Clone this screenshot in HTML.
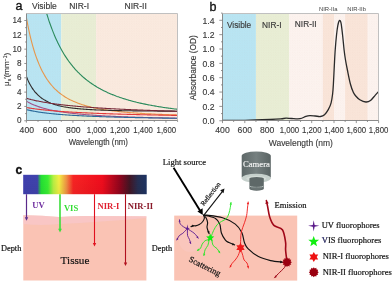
<!DOCTYPE html>
<html><head><meta charset="utf-8"><style>
html,body{margin:0;padding:0;background:#fff;}
svg{display:block;will-change:transform;}
.tk{font-family:"Liberation Sans",sans-serif;font-size:9.1px;fill:#3a3a3a;stroke:#3a3a3a;stroke-width:0.15px;}
.lb{font-family:"Liberation Sans",sans-serif;font-size:8.1px;fill:#3a3a3a;stroke:#3a3a3a;stroke-width:0.15px;}
.hd{font-family:"Liberation Sans",sans-serif;font-size:8.5px;fill:#3a3a3a;stroke:#3a3a3a;stroke-width:0.15px;}
.sm{font-family:"Liberation Sans",sans-serif;font-size:5.9px;fill:#444;}
.pl{font-family:"Liberation Sans",sans-serif;font-size:12.5px;fill:#111;stroke:#111;stroke-width:0.35px;}
.sf{font-family:"Liberation Serif",serif;font-size:8.3px;fill:#111;stroke:#111;stroke-width:0.18px;}
.bs{font-family:"Liberation Serif",serif;font-size:8.6px;font-weight:bold;}
</style></head><body>
<svg width="392" height="283" viewBox="0 0 392 283">
<defs>
<pattern id="dots" width="2.4" height="2.4" patternUnits="userSpaceOnUse"><circle cx="0.6" cy="0.6" r="0.38" fill="#c89078" fill-opacity="0.13"/><circle cx="1.8" cy="1.8" r="0.38" fill="#c89078" fill-opacity="0.13"/></pattern>
<pattern id="dots2" width="2" height="2" patternUnits="userSpaceOnUse"><circle cx="1" cy="1" r="0.4" fill="#fff" fill-opacity="0.15"/></pattern>
<linearGradient id="spec" x1="0" x2="1" y1="0" y2="0">
<stop offset="0" stop-color="#3c3cae"/>
<stop offset="0.115" stop-color="#3c40aa"/>
<stop offset="0.145" stop-color="#20e030"/>
<stop offset="0.2" stop-color="#38f030"/>
<stop offset="0.245" stop-color="#b8f040"/>
<stop offset="0.29" stop-color="#f4f040"/>
<stop offset="0.35" stop-color="#f09040"/>
<stop offset="0.405" stop-color="#f82020"/>
<stop offset="0.64" stop-color="#f00818"/>
<stop offset="0.78" stop-color="#900018"/>
<stop offset="0.86" stop-color="#401020"/>
<stop offset="0.93" stop-color="#222c50"/>
<stop offset="1" stop-color="#1a3060"/>
</linearGradient>
<linearGradient id="specv" x1="0" x2="0" y1="0" y2="1">
<stop offset="0" stop-color="#000" stop-opacity="0"/>
<stop offset="1" stop-color="#000" stop-opacity="0.05"/>
</linearGradient>
<linearGradient id="camb" x1="0" x2="1" y1="0" y2="0">
<stop offset="0" stop-color="#5e6868"/>
<stop offset="0.5" stop-color="#768080"/>
<stop offset="1" stop-color="#5a6464"/>
</linearGradient>
<linearGradient id="camt" x1="0" x2="0" y1="0" y2="1">
<stop offset="0" stop-color="#9a9e9e"/>
<stop offset="1" stop-color="#5e6464"/>
</linearGradient>
</defs>
<rect x="26.40" y="13.5" width="34.89" height="107.00" fill="#b8e5f3"/>
<rect x="61.29" y="13.5" width="34.89" height="107.00" fill="#e8eed5"/>
<rect x="96.18" y="13.5" width="81.41" height="107.00" fill="#faeadf"/>
<rect x="26.5" y="13.5" width="151.00" height="107.00" fill="url(#dots)"/>
<path d="M46.67,13.50 C46.78,13.86 47.03,14.71 47.33,15.68 C47.64,16.65 48.11,18.14 48.50,19.32 C48.88,20.50 49.27,21.65 49.66,22.77 C50.05,23.89 50.44,24.98 50.82,26.05 C51.21,27.12 51.60,28.16 51.99,29.17 C52.37,30.19 52.76,31.17 53.15,32.14 C53.54,33.11 53.92,34.05 54.31,34.97 C54.70,35.89 55.09,36.79 55.47,37.66 C55.86,38.54 56.25,39.40 56.64,40.24 C57.03,41.08 57.41,41.89 57.80,42.69 C58.19,43.49 58.58,44.27 58.96,45.04 C59.35,45.80 59.74,46.55 60.13,47.28 C60.51,48.01 60.90,48.73 61.29,49.43 C61.68,50.13 62.07,50.81 62.45,51.48 C62.84,52.15 63.23,52.81 63.62,53.45 C64.00,54.09 64.39,54.72 64.78,55.33 C65.17,55.95 65.55,56.55 65.94,57.14 C66.33,57.73 66.72,58.31 67.10,58.88 C67.49,59.44 67.88,60.00 68.27,60.54 C68.66,61.09 69.04,61.62 69.43,62.14 C69.82,62.67 70.21,63.18 70.59,63.68 C70.98,64.18 71.37,64.67 71.76,65.16 C72.14,65.64 72.53,66.11 72.92,66.58 C73.31,67.04 73.70,67.50 74.08,67.95 C74.47,68.40 74.86,68.84 75.25,69.27 C75.63,69.70 76.02,70.12 76.41,70.54 C76.80,70.95 77.18,71.36 77.57,71.76 C77.96,72.16 78.35,72.55 78.73,72.94 C79.12,73.33 79.51,73.70 79.90,74.08 C80.29,74.45 80.67,74.82 81.06,75.18 C81.45,75.54 81.84,75.89 82.22,76.24 C82.61,76.58 83.00,76.93 83.39,77.26 C83.77,77.60 84.16,77.93 84.55,78.25 C84.94,78.57 85.33,78.89 85.71,79.21 C86.10,79.52 86.49,79.83 86.88,80.13 C87.26,80.43 87.65,80.73 88.04,81.03 C88.43,81.32 88.81,81.61 89.20,81.89 C89.59,82.18 89.98,82.45 90.37,82.73 C90.75,83.00 91.14,83.27 91.53,83.54 C91.92,83.81 92.30,84.07 92.69,84.33 C93.08,84.58 93.47,84.84 93.85,85.09 C94.24,85.34 94.63,85.58 95.02,85.83 C95.40,86.07 95.79,86.31 96.18,86.54 C96.57,86.78 96.96,87.01 97.34,87.24 C97.73,87.46 98.12,87.69 98.51,87.91 C98.89,88.13 99.28,88.35 99.67,88.56 C100.06,88.78 100.44,88.99 100.83,89.20 C101.22,89.41 101.61,89.61 102.00,89.81 C102.38,90.02 102.77,90.21 103.16,90.41 C103.55,90.61 103.93,90.80 104.32,90.99 C104.71,91.18 105.10,91.37 105.48,91.56 C105.87,91.74 106.26,91.93 106.65,92.11 C107.03,92.29 107.42,92.46 107.81,92.64 C108.20,92.82 108.59,92.99 108.97,93.16 C109.36,93.33 109.75,93.50 110.14,93.66 C110.52,93.83 110.91,93.99 111.30,94.16 C111.69,94.32 112.07,94.48 112.46,94.63 C112.85,94.79 113.24,94.95 113.62,95.10 C114.01,95.25 114.40,95.40 114.79,95.55 C115.18,95.70 115.56,95.85 115.95,96.00 C116.34,96.14 116.73,96.28 117.11,96.43 C117.50,96.57 117.89,96.71 118.28,96.84 C118.66,96.98 119.05,97.12 119.44,97.25 C119.83,97.39 120.22,97.52 120.60,97.65 C120.99,97.78 121.38,97.91 121.77,98.04 C122.15,98.17 122.54,98.29 122.93,98.42 C123.32,98.54 123.70,98.67 124.09,98.79 C124.48,98.91 124.87,99.03 125.25,99.15 C125.64,99.27 126.03,99.38 126.42,99.50 C126.81,99.62 127.19,99.73 127.58,99.84 C127.97,99.96 128.36,100.07 128.74,100.18 C129.13,100.29 129.52,100.40 129.91,100.51 C130.29,100.61 130.68,100.72 131.07,100.82 C131.46,100.93 131.85,101.03 132.23,101.14 C132.62,101.24 133.01,101.34 133.40,101.44 C133.78,101.54 134.17,101.64 134.56,101.74 C134.95,101.84 135.33,101.93 135.72,102.03 C136.11,102.13 136.50,102.22 136.88,102.32 C137.27,102.41 137.66,102.50 138.05,102.59 C138.44,102.69 138.82,102.78 139.21,102.87 C139.60,102.95 139.99,103.04 140.37,103.13 C140.76,103.22 141.15,103.31 141.54,103.39 C141.92,103.48 142.31,103.56 142.70,103.65 C143.09,103.73 143.48,103.81 143.86,103.89 C144.25,103.98 144.64,104.06 145.03,104.14 C145.41,104.22 145.80,104.30 146.19,104.38 C146.58,104.46 146.96,104.53 147.35,104.61 C147.74,104.69 148.13,104.76 148.51,104.84 C148.90,104.91 149.29,104.99 149.68,105.06 C150.07,105.14 150.45,105.21 150.84,105.28 C151.23,105.35 151.62,105.43 152.00,105.50 C152.39,105.57 152.78,105.64 153.17,105.71 C153.55,105.78 153.94,105.84 154.33,105.91 C154.72,105.98 155.11,106.05 155.49,106.11 C155.88,106.18 156.27,106.25 156.66,106.31 C157.04,106.38 157.43,106.44 157.82,106.51 C158.21,106.57 158.59,106.63 158.98,106.69 C159.37,106.76 159.76,106.82 160.15,106.88 C160.53,106.94 160.92,107.00 161.31,107.06 C161.70,107.12 162.08,107.18 162.47,107.24 C162.86,107.30 163.25,107.36 163.63,107.42 C164.02,107.48 164.41,107.53 164.80,107.59 C165.18,107.65 165.57,107.70 165.96,107.76 C166.35,107.81 166.74,107.87 167.12,107.92 C167.51,107.98 167.90,108.03 168.29,108.09 C168.67,108.14 169.06,108.19 169.45,108.25 C169.84,108.30 170.22,108.35 170.61,108.40 C171.00,108.46 171.39,108.51 171.78,108.56 C172.16,108.61 172.55,108.66 172.94,108.71 C173.33,108.76 173.71,108.81 174.10,108.86 C174.49,108.90 174.88,108.95 175.26,109.00 C175.65,109.05 176.04,109.10 176.43,109.14 C176.81,109.19 177.40,109.26 177.59,109.28" fill="none" stroke="#2a8a5c" stroke-width="1.1"/>
<path d="M26.40,17.65 C26.59,18.69 27.18,21.91 27.56,23.90 C27.95,25.90 28.34,27.80 28.73,29.63 C29.11,31.46 29.50,33.20 29.89,34.88 C30.28,36.56 30.66,38.17 31.05,39.71 C31.44,41.26 31.83,42.73 32.21,44.16 C32.60,45.58 32.99,46.94 33.38,48.26 C33.77,49.57 34.15,50.83 34.54,52.05 C34.93,53.26 35.32,54.43 35.70,55.56 C36.09,56.68 36.48,57.76 36.87,58.81 C37.25,59.85 37.64,60.86 38.03,61.83 C38.42,62.80 38.81,63.73 39.19,64.64 C39.58,65.54 39.97,66.41 40.36,67.25 C40.74,68.09 41.13,68.91 41.52,69.69 C41.91,70.48 42.29,71.23 42.68,71.97 C43.07,72.70 43.46,73.41 43.84,74.10 C44.23,74.79 44.62,75.45 45.01,76.09 C45.40,76.74 45.78,77.36 46.17,77.96 C46.56,78.56 46.95,79.15 47.33,79.71 C47.72,80.28 48.11,80.83 48.50,81.36 C48.88,81.89 49.27,82.41 49.66,82.91 C50.05,83.41 50.44,83.89 50.82,84.37 C51.21,84.84 51.60,85.29 51.99,85.74 C52.37,86.18 52.76,86.61 53.15,87.03 C53.54,87.45 53.92,87.86 54.31,88.26 C54.70,88.65 55.09,89.04 55.47,89.41 C55.86,89.79 56.25,90.15 56.64,90.50 C57.03,90.86 57.41,91.20 57.80,91.54 C58.19,91.87 58.58,92.20 58.96,92.52 C59.35,92.84 59.74,93.15 60.13,93.45 C60.51,93.75 60.90,94.04 61.29,94.33 C61.68,94.61 62.07,94.89 62.45,95.16 C62.84,95.44 63.23,95.70 63.62,95.96 C64.00,96.22 64.39,96.47 64.78,96.71 C65.17,96.96 65.55,97.20 65.94,97.43 C66.33,97.67 66.72,97.90 67.10,98.12 C67.49,98.34 67.88,98.56 68.27,98.77 C68.66,98.98 69.04,99.19 69.43,99.39 C69.82,99.59 70.21,99.79 70.59,99.99 C70.98,100.18 71.37,100.37 71.76,100.55 C72.14,100.74 72.53,100.92 72.92,101.09 C73.31,101.27 73.70,101.44 74.08,101.61 C74.47,101.78 74.86,101.94 75.25,102.10 C75.63,102.26 76.02,102.42 76.41,102.58 C76.80,102.73 77.18,102.88 77.57,103.03 C77.96,103.18 78.35,103.32 78.73,103.46 C79.12,103.60 79.51,103.74 79.90,103.88 C80.29,104.01 80.67,104.15 81.06,104.28 C81.45,104.41 81.84,104.53 82.22,104.66 C82.61,104.78 83.00,104.90 83.39,105.02 C83.77,105.14 84.16,105.26 84.55,105.38 C84.94,105.49 85.33,105.60 85.71,105.71 C86.10,105.82 86.49,105.93 86.88,106.04 C87.26,106.14 87.65,106.25 88.04,106.35 C88.43,106.45 88.81,106.55 89.20,106.65 C89.59,106.75 89.98,106.84 90.37,106.94 C90.75,107.03 91.14,107.13 91.53,107.22 C91.92,107.31 92.30,107.40 92.69,107.48 C93.08,107.57 93.47,107.66 93.85,107.74 C94.24,107.83 94.63,107.91 95.02,107.99 C95.40,108.07 95.79,108.15 96.18,108.23 C96.57,108.31 96.96,108.39 97.34,108.46 C97.73,108.54 98.12,108.61 98.51,108.68 C98.89,108.76 99.28,108.83 99.67,108.90 C100.06,108.97 100.44,109.04 100.83,109.11 C101.22,109.17 101.61,109.24 102.00,109.31 C102.38,109.37 102.77,109.44 103.16,109.50 C103.55,109.56 103.93,109.63 104.32,109.69 C104.71,109.75 105.10,109.81 105.48,109.87 C105.87,109.93 106.26,109.99 106.65,110.04 C107.03,110.10 107.42,110.16 107.81,110.21 C108.20,110.27 108.59,110.32 108.97,110.38 C109.36,110.43 109.75,110.48 110.14,110.53 C110.52,110.59 110.91,110.64 111.30,110.69 C111.69,110.74 112.07,110.79 112.46,110.84 C112.85,110.88 113.24,110.93 113.62,110.98 C114.01,111.03 114.40,111.07 114.79,111.12 C115.18,111.16 115.56,111.21 115.95,111.25 C116.34,111.30 116.73,111.34 117.11,111.39 C117.50,111.43 117.89,111.47 118.28,111.51 C118.66,111.55 119.05,111.59 119.44,111.64 C119.83,111.68 120.22,111.72 120.60,111.75 C120.99,111.79 121.38,111.83 121.77,111.87 C122.15,111.91 122.54,111.95 122.93,111.98 C123.32,112.02 123.70,112.06 124.09,112.09 C124.48,112.13 124.87,112.16 125.25,112.20 C125.64,112.23 126.03,112.27 126.42,112.30 C126.81,112.34 127.19,112.37 127.58,112.40 C127.97,112.43 128.36,112.47 128.74,112.50 C129.13,112.53 129.52,112.56 129.91,112.59 C130.29,112.63 130.68,112.66 131.07,112.69 C131.46,112.72 131.85,112.75 132.23,112.78 C132.62,112.80 133.01,112.83 133.40,112.86 C133.78,112.89 134.17,112.92 134.56,112.95 C134.95,112.97 135.33,113.00 135.72,113.03 C136.11,113.06 136.50,113.08 136.88,113.11 C137.27,113.14 137.66,113.16 138.05,113.19 C138.44,113.21 138.82,113.24 139.21,113.26 C139.60,113.29 139.99,113.31 140.37,113.34 C140.76,113.36 141.15,113.39 141.54,113.41 C141.92,113.43 142.31,113.46 142.70,113.48 C143.09,113.50 143.48,113.53 143.86,113.55 C144.25,113.57 144.64,113.59 145.03,113.62 C145.41,113.64 145.80,113.66 146.19,113.68 C146.58,113.70 146.96,113.72 147.35,113.74 C147.74,113.76 148.13,113.78 148.51,113.81 C148.90,113.83 149.29,113.85 149.68,113.87 C150.07,113.89 150.45,113.90 150.84,113.92 C151.23,113.94 151.62,113.96 152.00,113.98 C152.39,114.00 152.78,114.02 153.17,114.04 C153.55,114.06 153.94,114.07 154.33,114.09 C154.72,114.11 155.11,114.13 155.49,114.15 C155.88,114.16 156.27,114.18 156.66,114.20 C157.04,114.21 157.43,114.23 157.82,114.25 C158.21,114.27 158.59,114.28 158.98,114.30 C159.37,114.31 159.76,114.33 160.15,114.35 C160.53,114.36 160.92,114.38 161.31,114.39 C161.70,114.41 162.08,114.42 162.47,114.44 C162.86,114.46 163.25,114.47 163.63,114.49 C164.02,114.50 164.41,114.52 164.80,114.53 C165.18,114.54 165.57,114.56 165.96,114.57 C166.35,114.59 166.74,114.60 167.12,114.61 C167.51,114.63 167.90,114.64 168.29,114.66 C168.67,114.67 169.06,114.68 169.45,114.70 C169.84,114.71 170.22,114.72 170.61,114.74 C171.00,114.75 171.39,114.76 171.78,114.77 C172.16,114.79 172.55,114.80 172.94,114.81 C173.33,114.82 173.71,114.84 174.10,114.85 C174.49,114.86 174.88,114.87 175.26,114.89 C175.65,114.90 176.04,114.91 176.43,114.92 C176.81,114.93 177.40,114.95 177.59,114.96" fill="none" stroke="#e8964a" stroke-width="1.1"/>
<path d="M26.40,76.57 C26.59,77.04 27.18,78.49 27.56,79.38 C27.95,80.27 28.34,81.10 28.73,81.90 C29.11,82.70 29.50,83.45 29.89,84.17 C30.28,84.89 30.66,85.57 31.05,86.22 C31.44,86.88 31.83,87.49 32.21,88.08 C32.60,88.67 32.99,89.23 33.38,89.76 C33.77,90.30 34.15,90.80 34.54,91.29 C34.93,91.78 35.32,92.24 35.70,92.68 C36.09,93.13 36.48,93.55 36.87,93.95 C37.25,94.36 37.64,94.74 38.03,95.11 C38.42,95.48 38.81,95.84 39.19,96.18 C39.58,96.52 39.97,96.84 40.36,97.15 C40.74,97.46 41.13,97.76 41.52,98.05 C41.91,98.33 42.29,98.61 42.68,98.87 C43.07,99.14 43.46,99.39 43.84,99.63 C44.23,99.88 44.62,100.11 45.01,100.33 C45.40,100.56 45.78,100.78 46.17,100.98 C46.56,101.19 46.95,101.39 47.33,101.58 C47.72,101.78 48.11,101.96 48.50,102.14 C48.88,102.32 49.27,102.49 49.66,102.66 C50.05,102.82 50.44,102.98 50.82,103.14 C51.21,103.29 51.60,103.44 51.99,103.58 C52.37,103.73 52.76,103.87 53.15,104.00 C53.54,104.13 53.92,104.26 54.31,104.39 C54.70,104.51 55.09,104.63 55.47,104.75 C55.86,104.87 56.25,104.98 56.64,105.09 C57.03,105.20 57.41,105.30 57.80,105.41 C58.19,105.51 58.58,105.61 58.96,105.70 C59.35,105.80 59.74,105.89 60.13,105.98 C60.51,106.07 60.90,106.16 61.29,106.24 C61.68,106.32 62.07,106.41 62.45,106.49 C62.84,106.56 63.23,106.64 63.62,106.72 C64.00,106.79 64.39,106.86 64.78,106.93 C65.17,107.00 65.55,107.07 65.94,107.14 C66.33,107.20 66.72,107.27 67.10,107.33 C67.49,107.39 67.88,107.45 68.27,107.51 C68.66,107.57 69.04,107.62 69.43,107.68 C69.82,107.74 70.21,107.79 70.59,107.84 C70.98,107.89 71.37,107.94 71.76,107.99 C72.14,108.04 72.53,108.09 72.92,108.14 C73.31,108.19 73.70,108.23 74.08,108.28 C74.47,108.32 74.86,108.36 75.25,108.40 C75.63,108.45 76.02,108.49 76.41,108.53 C76.80,108.57 77.18,108.61 77.57,108.64 C77.96,108.68 78.35,108.72 78.73,108.75 C79.12,108.79 79.51,108.82 79.90,108.86 C80.29,108.89 80.67,108.93 81.06,108.96 C81.45,108.99 81.84,109.02 82.22,109.05 C82.61,109.08 83.00,109.11 83.39,109.14 C83.77,109.17 84.16,109.20 84.55,109.23 C84.94,109.26 85.33,109.28 85.71,109.31 C86.10,109.34 86.49,109.36 86.88,109.39 C87.26,109.41 87.65,109.44 88.04,109.46 C88.43,109.49 88.81,109.51 89.20,109.53 C89.59,109.56 89.98,109.58 90.37,109.60 C90.75,109.62 91.14,109.64 91.53,109.66 C91.92,109.69 92.30,109.71 92.69,109.73 C93.08,109.75 93.47,109.77 93.85,109.79 C94.24,109.80 94.63,109.82 95.02,109.84 C95.40,109.86 95.79,109.88 96.18,109.90 C96.57,109.91 96.96,109.93 97.34,109.95 C97.73,109.96 98.12,109.98 98.51,110.00 C98.89,110.01 99.28,110.03 99.67,110.04 C100.06,110.06 100.44,110.07 100.83,110.09 C101.22,110.10 101.61,110.12 102.00,110.13 C102.38,110.15 102.77,110.16 103.16,110.17 C103.55,110.19 103.93,110.20 104.32,110.21 C104.71,110.23 105.10,110.24 105.48,110.25 C105.87,110.26 106.26,110.28 106.65,110.29 C107.03,110.30 107.42,110.31 107.81,110.32 C108.20,110.33 108.59,110.35 108.97,110.36 C109.36,110.37 109.75,110.38 110.14,110.39 C110.52,110.40 110.91,110.41 111.30,110.42 C111.69,110.43 112.07,110.44 112.46,110.45 C112.85,110.46 113.24,110.47 113.62,110.48 C114.01,110.49 114.40,110.50 114.79,110.51 C115.18,110.52 115.56,110.53 115.95,110.53 C116.34,110.54 116.73,110.55 117.11,110.56 C117.50,110.57 117.89,110.58 118.28,110.59 C118.66,110.59 119.05,110.60 119.44,110.61 C119.83,110.62 120.22,110.63 120.60,110.63 C120.99,110.64 121.38,110.65 121.77,110.66 C122.15,110.66 122.54,110.67 122.93,110.68 C123.32,110.68 123.70,110.69 124.09,110.70 C124.48,110.70 124.87,110.71 125.25,110.72 C125.64,110.72 126.03,110.73 126.42,110.74 C126.81,110.74 127.19,110.75 127.58,110.76 C127.97,110.76 128.36,110.77 128.74,110.77 C129.13,110.78 129.52,110.79 129.91,110.79 C130.29,110.80 130.68,110.80 131.07,110.81 C131.46,110.81 131.85,110.82 132.23,110.82 C132.62,110.83 133.01,110.83 133.40,110.84 C133.78,110.85 134.17,110.85 134.56,110.86 C134.95,110.86 135.33,110.87 135.72,110.87 C136.11,110.87 136.50,110.88 136.88,110.88 C137.27,110.89 137.66,110.89 138.05,110.90 C138.44,110.90 138.82,110.91 139.21,110.91 C139.60,110.92 139.99,110.92 140.37,110.92 C140.76,110.93 141.15,110.93 141.54,110.94 C141.92,110.94 142.31,110.95 142.70,110.95 C143.09,110.95 143.48,110.96 143.86,110.96 C144.25,110.96 144.64,110.97 145.03,110.97 C145.41,110.98 145.80,110.98 146.19,110.98 C146.58,110.99 146.96,110.99 147.35,110.99 C147.74,111.00 148.13,111.00 148.51,111.00 C148.90,111.01 149.29,111.01 149.68,111.01 C150.07,111.02 150.45,111.02 150.84,111.02 C151.23,111.03 151.62,111.03 152.00,111.03 C152.39,111.04 152.78,111.04 153.17,111.04 C153.55,111.05 153.94,111.05 154.33,111.05 C154.72,111.06 155.11,111.06 155.49,111.06 C155.88,111.06 156.27,111.07 156.66,111.07 C157.04,111.07 157.43,111.07 157.82,111.08 C158.21,111.08 158.59,111.08 158.98,111.09 C159.37,111.09 159.76,111.09 160.15,111.09 C160.53,111.10 160.92,111.10 161.31,111.10 C161.70,111.10 162.08,111.11 162.47,111.11 C162.86,111.11 163.25,111.11 163.63,111.12 C164.02,111.12 164.41,111.12 164.80,111.12 C165.18,111.12 165.57,111.13 165.96,111.13 C166.35,111.13 166.74,111.13 167.12,111.14 C167.51,111.14 167.90,111.14 168.29,111.14 C168.67,111.14 169.06,111.15 169.45,111.15 C169.84,111.15 170.22,111.15 170.61,111.15 C171.00,111.16 171.39,111.16 171.78,111.16 C172.16,111.16 172.55,111.16 172.94,111.17 C173.33,111.17 173.71,111.17 174.10,111.17 C174.49,111.17 174.88,111.18 175.26,111.18 C175.65,111.18 176.04,111.18 176.43,111.18 C176.81,111.18 177.40,111.19 177.59,111.19" fill="none" stroke="#2e2a2a" stroke-width="1.1"/>
<path d="M26.40,98.27 C26.59,98.32 27.18,98.49 27.56,98.60 C27.95,98.71 28.34,98.81 28.73,98.92 C29.11,99.02 29.50,99.12 29.89,99.22 C30.28,99.32 30.66,99.42 31.05,99.52 C31.44,99.61 31.83,99.71 32.21,99.80 C32.60,99.89 32.99,99.99 33.38,100.08 C33.77,100.17 34.15,100.25 34.54,100.34 C34.93,100.43 35.32,100.51 35.70,100.60 C36.09,100.68 36.48,100.76 36.87,100.85 C37.25,100.93 37.64,101.01 38.03,101.08 C38.42,101.16 38.81,101.24 39.19,101.32 C39.58,101.39 39.97,101.47 40.36,101.54 C40.74,101.62 41.13,101.69 41.52,101.76 C41.91,101.83 42.29,101.90 42.68,101.97 C43.07,102.04 43.46,102.11 43.84,102.18 C44.23,102.25 44.62,102.31 45.01,102.38 C45.40,102.44 45.78,102.51 46.17,102.57 C46.56,102.64 46.95,102.70 47.33,102.76 C47.72,102.82 48.11,102.88 48.50,102.94 C48.88,103.00 49.27,103.06 49.66,103.12 C50.05,103.18 50.44,103.24 50.82,103.30 C51.21,103.35 51.60,103.41 51.99,103.47 C52.37,103.52 52.76,103.58 53.15,103.63 C53.54,103.69 53.92,103.74 54.31,103.79 C54.70,103.85 55.09,103.90 55.47,103.95 C55.86,104.00 56.25,104.05 56.64,104.10 C57.03,104.15 57.41,104.20 57.80,104.25 C58.19,104.30 58.58,104.35 58.96,104.40 C59.35,104.45 59.74,104.49 60.13,104.54 C60.51,104.59 60.90,104.63 61.29,104.68 C61.68,104.73 62.07,104.77 62.45,104.82 C62.84,104.86 63.23,104.91 63.62,104.95 C64.00,104.99 64.39,105.04 64.78,105.08 C65.17,105.12 65.55,105.16 65.94,105.21 C66.33,105.25 66.72,105.29 67.10,105.33 C67.49,105.37 67.88,105.41 68.27,105.45 C68.66,105.49 69.04,105.53 69.43,105.57 C69.82,105.61 70.21,105.65 70.59,105.69 C70.98,105.73 71.37,105.77 71.76,105.80 C72.14,105.84 72.53,105.88 72.92,105.92 C73.31,105.95 73.70,105.99 74.08,106.03 C74.47,106.06 74.86,106.10 75.25,106.14 C75.63,106.17 76.02,106.21 76.41,106.24 C76.80,106.28 77.18,106.31 77.57,106.35 C77.96,106.38 78.35,106.41 78.73,106.45 C79.12,106.48 79.51,106.51 79.90,106.55 C80.29,106.58 80.67,106.61 81.06,106.65 C81.45,106.68 81.84,106.71 82.22,106.74 C82.61,106.77 83.00,106.80 83.39,106.84 C83.77,106.87 84.16,106.90 84.55,106.93 C84.94,106.96 85.33,106.99 85.71,107.02 C86.10,107.05 86.49,107.08 86.88,107.11 C87.26,107.14 87.65,107.17 88.04,107.20 C88.43,107.23 88.81,107.26 89.20,107.29 C89.59,107.31 89.98,107.34 90.37,107.37 C90.75,107.40 91.14,107.43 91.53,107.45 C91.92,107.48 92.30,107.51 92.69,107.54 C93.08,107.56 93.47,107.59 93.85,107.62 C94.24,107.64 94.63,107.67 95.02,107.70 C95.40,107.72 95.79,107.75 96.18,107.78 C96.57,107.80 96.96,107.83 97.34,107.85 C97.73,107.88 98.12,107.90 98.51,107.93 C98.89,107.95 99.28,107.98 99.67,108.00 C100.06,108.03 100.44,108.05 100.83,108.08 C101.22,108.10 101.61,108.13 102.00,108.15 C102.38,108.17 102.77,108.20 103.16,108.22 C103.55,108.25 103.93,108.27 104.32,108.29 C104.71,108.32 105.10,108.34 105.48,108.36 C105.87,108.38 106.26,108.41 106.65,108.43 C107.03,108.45 107.42,108.47 107.81,108.50 C108.20,108.52 108.59,108.54 108.97,108.56 C109.36,108.59 109.75,108.61 110.14,108.63 C110.52,108.65 110.91,108.67 111.30,108.69 C111.69,108.71 112.07,108.74 112.46,108.76 C112.85,108.78 113.24,108.80 113.62,108.82 C114.01,108.84 114.40,108.86 114.79,108.88 C115.18,108.90 115.56,108.92 115.95,108.94 C116.34,108.96 116.73,108.98 117.11,109.00 C117.50,109.02 117.89,109.04 118.28,109.06 C118.66,109.08 119.05,109.10 119.44,109.12 C119.83,109.14 120.22,109.16 120.60,109.18 C120.99,109.20 121.38,109.22 121.77,109.24 C122.15,109.25 122.54,109.27 122.93,109.29 C123.32,109.31 123.70,109.33 124.09,109.35 C124.48,109.37 124.87,109.38 125.25,109.40 C125.64,109.42 126.03,109.44 126.42,109.46 C126.81,109.47 127.19,109.49 127.58,109.51 C127.97,109.53 128.36,109.54 128.74,109.56 C129.13,109.58 129.52,109.60 129.91,109.61 C130.29,109.63 130.68,109.65 131.07,109.67 C131.46,109.68 131.85,109.70 132.23,109.72 C132.62,109.73 133.01,109.75 133.40,109.77 C133.78,109.78 134.17,109.80 134.56,109.82 C134.95,109.83 135.33,109.85 135.72,109.87 C136.11,109.88 136.50,109.90 136.88,109.91 C137.27,109.93 137.66,109.95 138.05,109.96 C138.44,109.98 138.82,109.99 139.21,110.01 C139.60,110.02 139.99,110.04 140.37,110.06 C140.76,110.07 141.15,110.09 141.54,110.10 C141.92,110.12 142.31,110.13 142.70,110.15 C143.09,110.16 143.48,110.18 143.86,110.19 C144.25,110.21 144.64,110.22 145.03,110.24 C145.41,110.25 145.80,110.27 146.19,110.28 C146.58,110.30 146.96,110.31 147.35,110.33 C147.74,110.34 148.13,110.35 148.51,110.37 C148.90,110.38 149.29,110.40 149.68,110.41 C150.07,110.43 150.45,110.44 150.84,110.45 C151.23,110.47 151.62,110.48 152.00,110.50 C152.39,110.51 152.78,110.52 153.17,110.54 C153.55,110.55 153.94,110.56 154.33,110.58 C154.72,110.59 155.11,110.60 155.49,110.62 C155.88,110.63 156.27,110.64 156.66,110.66 C157.04,110.67 157.43,110.68 157.82,110.70 C158.21,110.71 158.59,110.72 158.98,110.74 C159.37,110.75 159.76,110.76 160.15,110.78 C160.53,110.79 160.92,110.80 161.31,110.81 C161.70,110.83 162.08,110.84 162.47,110.85 C162.86,110.86 163.25,110.88 163.63,110.89 C164.02,110.90 164.41,110.91 164.80,110.93 C165.18,110.94 165.57,110.95 165.96,110.96 C166.35,110.98 166.74,110.99 167.12,111.00 C167.51,111.01 167.90,111.02 168.29,111.04 C168.67,111.05 169.06,111.06 169.45,111.07 C169.84,111.08 170.22,111.10 170.61,111.11 C171.00,111.12 171.39,111.13 171.78,111.14 C172.16,111.15 172.55,111.17 172.94,111.18 C173.33,111.19 173.71,111.20 174.10,111.21 C174.49,111.22 174.88,111.23 175.26,111.25 C175.65,111.26 176.04,111.27 176.43,111.28 C176.81,111.29 177.40,111.31 177.59,111.31" fill="none" stroke="#7a2a3a" stroke-width="1.1"/>
<path d="M26.40,101.20 C26.59,101.31 27.18,101.66 27.56,101.87 C27.95,102.09 28.34,102.30 28.73,102.50 C29.11,102.71 29.50,102.91 29.89,103.10 C30.28,103.29 30.66,103.48 31.05,103.66 C31.44,103.84 31.83,104.02 32.21,104.19 C32.60,104.37 32.99,104.54 33.38,104.70 C33.77,104.86 34.15,105.02 34.54,105.18 C34.93,105.33 35.32,105.49 35.70,105.63 C36.09,105.78 36.48,105.93 36.87,106.07 C37.25,106.21 37.64,106.35 38.03,106.48 C38.42,106.61 38.81,106.74 39.19,106.87 C39.58,107.00 39.97,107.13 40.36,107.25 C40.74,107.37 41.13,107.49 41.52,107.61 C41.91,107.72 42.29,107.84 42.68,107.95 C43.07,108.06 43.46,108.17 43.84,108.27 C44.23,108.38 44.62,108.49 45.01,108.59 C45.40,108.69 45.78,108.79 46.17,108.89 C46.56,108.98 46.95,109.08 47.33,109.17 C47.72,109.27 48.11,109.36 48.50,109.45 C48.88,109.54 49.27,109.63 49.66,109.71 C50.05,109.80 50.44,109.89 50.82,109.97 C51.21,110.05 51.60,110.13 51.99,110.21 C52.37,110.29 52.76,110.37 53.15,110.45 C53.54,110.53 53.92,110.60 54.31,110.67 C54.70,110.75 55.09,110.82 55.47,110.89 C55.86,110.96 56.25,111.03 56.64,111.10 C57.03,111.17 57.41,111.24 57.80,111.30 C58.19,111.37 58.58,111.44 58.96,111.50 C59.35,111.56 59.74,111.63 60.13,111.69 C60.51,111.75 60.90,111.81 61.29,111.87 C61.68,111.93 62.07,111.99 62.45,112.05 C62.84,112.10 63.23,112.16 63.62,112.22 C64.00,112.27 64.39,112.33 64.78,112.38 C65.17,112.43 65.55,112.49 65.94,112.54 C66.33,112.59 66.72,112.64 67.10,112.69 C67.49,112.74 67.88,112.79 68.27,112.84 C68.66,112.89 69.04,112.94 69.43,112.99 C69.82,113.03 70.21,113.08 70.59,113.13 C70.98,113.17 71.37,113.22 71.76,113.26 C72.14,113.31 72.53,113.35 72.92,113.39 C73.31,113.44 73.70,113.48 74.08,113.52 C74.47,113.56 74.86,113.61 75.25,113.65 C75.63,113.69 76.02,113.73 76.41,113.77 C76.80,113.81 77.18,113.84 77.57,113.88 C77.96,113.92 78.35,113.96 78.73,114.00 C79.12,114.03 79.51,114.07 79.90,114.11 C80.29,114.14 80.67,114.18 81.06,114.21 C81.45,114.25 81.84,114.28 82.22,114.32 C82.61,114.35 83.00,114.39 83.39,114.42 C83.77,114.45 84.16,114.49 84.55,114.52 C84.94,114.55 85.33,114.58 85.71,114.62 C86.10,114.65 86.49,114.68 86.88,114.71 C87.26,114.74 87.65,114.77 88.04,114.80 C88.43,114.83 88.81,114.86 89.20,114.89 C89.59,114.92 89.98,114.95 90.37,114.98 C90.75,115.01 91.14,115.03 91.53,115.06 C91.92,115.09 92.30,115.12 92.69,115.14 C93.08,115.17 93.47,115.20 93.85,115.22 C94.24,115.25 94.63,115.28 95.02,115.30 C95.40,115.33 95.79,115.35 96.18,115.38 C96.57,115.41 96.96,115.43 97.34,115.45 C97.73,115.48 98.12,115.50 98.51,115.53 C98.89,115.55 99.28,115.58 99.67,115.60 C100.06,115.62 100.44,115.65 100.83,115.67 C101.22,115.69 101.61,115.71 102.00,115.74 C102.38,115.76 102.77,115.78 103.16,115.80 C103.55,115.83 103.93,115.85 104.32,115.87 C104.71,115.89 105.10,115.91 105.48,115.93 C105.87,115.95 106.26,115.97 106.65,115.99 C107.03,116.01 107.42,116.04 107.81,116.06 C108.20,116.08 108.59,116.10 108.97,116.11 C109.36,116.13 109.75,116.15 110.14,116.17 C110.52,116.19 110.91,116.21 111.30,116.23 C111.69,116.25 112.07,116.27 112.46,116.29 C112.85,116.30 113.24,116.32 113.62,116.34 C114.01,116.36 114.40,116.38 114.79,116.39 C115.18,116.41 115.56,116.43 115.95,116.45 C116.34,116.46 116.73,116.48 117.11,116.50 C117.50,116.51 117.89,116.53 118.28,116.55 C118.66,116.56 119.05,116.58 119.44,116.60 C119.83,116.61 120.22,116.63 120.60,116.65 C120.99,116.66 121.38,116.68 121.77,116.69 C122.15,116.71 122.54,116.72 122.93,116.74 C123.32,116.75 123.70,116.77 124.09,116.78 C124.48,116.80 124.87,116.81 125.25,116.83 C125.64,116.84 126.03,116.86 126.42,116.87 C126.81,116.89 127.19,116.90 127.58,116.92 C127.97,116.93 128.36,116.94 128.74,116.96 C129.13,116.97 129.52,116.99 129.91,117.00 C130.29,117.01 130.68,117.03 131.07,117.04 C131.46,117.05 131.85,117.07 132.23,117.08 C132.62,117.09 133.01,117.11 133.40,117.12 C133.78,117.13 134.17,117.15 134.56,117.16 C134.95,117.17 135.33,117.18 135.72,117.20 C136.11,117.21 136.50,117.22 136.88,117.23 C137.27,117.24 137.66,117.26 138.05,117.27 C138.44,117.28 138.82,117.29 139.21,117.30 C139.60,117.32 139.99,117.33 140.37,117.34 C140.76,117.35 141.15,117.36 141.54,117.37 C141.92,117.39 142.31,117.40 142.70,117.41 C143.09,117.42 143.48,117.43 143.86,117.44 C144.25,117.45 144.64,117.46 145.03,117.47 C145.41,117.49 145.80,117.50 146.19,117.51 C146.58,117.52 146.96,117.53 147.35,117.54 C147.74,117.55 148.13,117.56 148.51,117.57 C148.90,117.58 149.29,117.59 149.68,117.60 C150.07,117.61 150.45,117.62 150.84,117.63 C151.23,117.64 151.62,117.65 152.00,117.66 C152.39,117.67 152.78,117.68 153.17,117.69 C153.55,117.70 153.94,117.71 154.33,117.72 C154.72,117.73 155.11,117.74 155.49,117.75 C155.88,117.76 156.27,117.77 156.66,117.77 C157.04,117.78 157.43,117.79 157.82,117.80 C158.21,117.81 158.59,117.82 158.98,117.83 C159.37,117.84 159.76,117.85 160.15,117.86 C160.53,117.86 160.92,117.87 161.31,117.88 C161.70,117.89 162.08,117.90 162.47,117.91 C162.86,117.92 163.25,117.92 163.63,117.93 C164.02,117.94 164.41,117.95 164.80,117.96 C165.18,117.97 165.57,117.97 165.96,117.98 C166.35,117.99 166.74,118.00 167.12,118.01 C167.51,118.01 167.90,118.02 168.29,118.03 C168.67,118.04 169.06,118.05 169.45,118.05 C169.84,118.06 170.22,118.07 170.61,118.08 C171.00,118.08 171.39,118.09 171.78,118.10 C172.16,118.11 172.55,118.11 172.94,118.12 C173.33,118.13 173.71,118.14 174.10,118.14 C174.49,118.15 174.88,118.16 175.26,118.17 C175.65,118.17 176.04,118.18 176.43,118.19 C176.81,118.19 177.40,118.21 177.59,118.21" fill="none" stroke="#a0508a" stroke-width="1.1"/>
<path d="M26.40,107.50 C26.59,107.54 27.18,107.64 27.56,107.71 C27.95,107.78 28.34,107.84 28.73,107.90 C29.11,107.97 29.50,108.03 29.89,108.09 C30.28,108.16 30.66,108.22 31.05,108.28 C31.44,108.34 31.83,108.39 32.21,108.45 C32.60,108.51 32.99,108.57 33.38,108.62 C33.77,108.68 34.15,108.73 34.54,108.78 C34.93,108.84 35.32,108.89 35.70,108.94 C36.09,108.99 36.48,109.04 36.87,109.09 C37.25,109.14 37.64,109.19 38.03,109.24 C38.42,109.29 38.81,109.34 39.19,109.38 C39.58,109.43 39.97,109.48 40.36,109.52 C40.74,109.57 41.13,109.61 41.52,109.66 C41.91,109.70 42.29,109.74 42.68,109.79 C43.07,109.83 43.46,109.87 43.84,109.91 C44.23,109.95 44.62,109.99 45.01,110.03 C45.40,110.07 45.78,110.11 46.17,110.15 C46.56,110.19 46.95,110.23 47.33,110.27 C47.72,110.31 48.11,110.34 48.50,110.38 C48.88,110.42 49.27,110.45 49.66,110.49 C50.05,110.53 50.44,110.56 50.82,110.60 C51.21,110.63 51.60,110.67 51.99,110.70 C52.37,110.73 52.76,110.77 53.15,110.80 C53.54,110.83 53.92,110.87 54.31,110.90 C54.70,110.93 55.09,110.96 55.47,110.99 C55.86,111.03 56.25,111.06 56.64,111.09 C57.03,111.12 57.41,111.15 57.80,111.18 C58.19,111.21 58.58,111.24 58.96,111.27 C59.35,111.30 59.74,111.33 60.13,111.35 C60.51,111.38 60.90,111.41 61.29,111.44 C61.68,111.47 62.07,111.50 62.45,111.52 C62.84,111.55 63.23,111.58 63.62,111.60 C64.00,111.63 64.39,111.66 64.78,111.68 C65.17,111.71 65.55,111.73 65.94,111.76 C66.33,111.79 66.72,111.81 67.10,111.84 C67.49,111.86 67.88,111.89 68.27,111.91 C68.66,111.93 69.04,111.96 69.43,111.98 C69.82,112.01 70.21,112.03 70.59,112.05 C70.98,112.08 71.37,112.10 71.76,112.12 C72.14,112.15 72.53,112.17 72.92,112.19 C73.31,112.21 73.70,112.24 74.08,112.26 C74.47,112.28 74.86,112.30 75.25,112.32 C75.63,112.34 76.02,112.37 76.41,112.39 C76.80,112.41 77.18,112.43 77.57,112.45 C77.96,112.47 78.35,112.49 78.73,112.51 C79.12,112.53 79.51,112.55 79.90,112.57 C80.29,112.59 80.67,112.61 81.06,112.63 C81.45,112.65 81.84,112.67 82.22,112.69 C82.61,112.71 83.00,112.73 83.39,112.75 C83.77,112.77 84.16,112.78 84.55,112.80 C84.94,112.82 85.33,112.84 85.71,112.86 C86.10,112.88 86.49,112.89 86.88,112.91 C87.26,112.93 87.65,112.95 88.04,112.97 C88.43,112.98 88.81,113.00 89.20,113.02 C89.59,113.03 89.98,113.05 90.37,113.07 C90.75,113.09 91.14,113.10 91.53,113.12 C91.92,113.14 92.30,113.15 92.69,113.17 C93.08,113.19 93.47,113.20 93.85,113.22 C94.24,113.23 94.63,113.25 95.02,113.27 C95.40,113.28 95.79,113.30 96.18,113.31 C96.57,113.33 96.96,113.34 97.34,113.36 C97.73,113.38 98.12,113.39 98.51,113.41 C98.89,113.42 99.28,113.44 99.67,113.45 C100.06,113.47 100.44,113.48 100.83,113.49 C101.22,113.51 101.61,113.52 102.00,113.54 C102.38,113.55 102.77,113.57 103.16,113.58 C103.55,113.60 103.93,113.61 104.32,113.62 C104.71,113.64 105.10,113.65 105.48,113.67 C105.87,113.68 106.26,113.69 106.65,113.71 C107.03,113.72 107.42,113.73 107.81,113.75 C108.20,113.76 108.59,113.77 108.97,113.79 C109.36,113.80 109.75,113.81 110.14,113.83 C110.52,113.84 110.91,113.85 111.30,113.86 C111.69,113.88 112.07,113.89 112.46,113.90 C112.85,113.92 113.24,113.93 113.62,113.94 C114.01,113.95 114.40,113.96 114.79,113.98 C115.18,113.99 115.56,114.00 115.95,114.01 C116.34,114.03 116.73,114.04 117.11,114.05 C117.50,114.06 117.89,114.07 118.28,114.09 C118.66,114.10 119.05,114.11 119.44,114.12 C119.83,114.13 120.22,114.14 120.60,114.15 C120.99,114.17 121.38,114.18 121.77,114.19 C122.15,114.20 122.54,114.21 122.93,114.22 C123.32,114.23 123.70,114.24 124.09,114.26 C124.48,114.27 124.87,114.28 125.25,114.29 C125.64,114.30 126.03,114.31 126.42,114.32 C126.81,114.33 127.19,114.34 127.58,114.35 C127.97,114.36 128.36,114.37 128.74,114.38 C129.13,114.39 129.52,114.41 129.91,114.42 C130.29,114.43 130.68,114.44 131.07,114.45 C131.46,114.46 131.85,114.47 132.23,114.48 C132.62,114.49 133.01,114.50 133.40,114.51 C133.78,114.52 134.17,114.53 134.56,114.54 C134.95,114.55 135.33,114.56 135.72,114.57 C136.11,114.58 136.50,114.58 136.88,114.59 C137.27,114.60 137.66,114.61 138.05,114.62 C138.44,114.63 138.82,114.64 139.21,114.65 C139.60,114.66 139.99,114.67 140.37,114.68 C140.76,114.69 141.15,114.70 141.54,114.71 C141.92,114.72 142.31,114.72 142.70,114.73 C143.09,114.74 143.48,114.75 143.86,114.76 C144.25,114.77 144.64,114.78 145.03,114.79 C145.41,114.80 145.80,114.80 146.19,114.81 C146.58,114.82 146.96,114.83 147.35,114.84 C147.74,114.85 148.13,114.86 148.51,114.87 C148.90,114.87 149.29,114.88 149.68,114.89 C150.07,114.90 150.45,114.91 150.84,114.92 C151.23,114.92 151.62,114.93 152.00,114.94 C152.39,114.95 152.78,114.96 153.17,114.97 C153.55,114.97 153.94,114.98 154.33,114.99 C154.72,115.00 155.11,115.01 155.49,115.01 C155.88,115.02 156.27,115.03 156.66,115.04 C157.04,115.05 157.43,115.05 157.82,115.06 C158.21,115.07 158.59,115.08 158.98,115.08 C159.37,115.09 159.76,115.10 160.15,115.11 C160.53,115.12 160.92,115.12 161.31,115.13 C161.70,115.14 162.08,115.15 162.47,115.15 C162.86,115.16 163.25,115.17 163.63,115.18 C164.02,115.18 164.41,115.19 164.80,115.20 C165.18,115.20 165.57,115.21 165.96,115.22 C166.35,115.23 166.74,115.23 167.12,115.24 C167.51,115.25 167.90,115.26 168.29,115.26 C168.67,115.27 169.06,115.28 169.45,115.28 C169.84,115.29 170.22,115.30 170.61,115.30 C171.00,115.31 171.39,115.32 171.78,115.33 C172.16,115.33 172.55,115.34 172.94,115.35 C173.33,115.35 173.71,115.36 174.10,115.37 C174.49,115.37 174.88,115.38 175.26,115.39 C175.65,115.39 176.04,115.40 176.43,115.41 C176.81,115.41 177.40,115.42 177.59,115.43" fill="none" stroke="#e23a3a" stroke-width="1.1"/>
<path d="M26.40,109.58 C26.59,109.63 27.18,109.77 27.56,109.87 C27.95,109.96 28.34,110.05 28.73,110.14 C29.11,110.22 29.50,110.31 29.89,110.39 C30.28,110.48 30.66,110.56 31.05,110.64 C31.44,110.72 31.83,110.80 32.21,110.88 C32.60,110.95 32.99,111.03 33.38,111.10 C33.77,111.17 34.15,111.24 34.54,111.31 C34.93,111.38 35.32,111.45 35.70,111.52 C36.09,111.59 36.48,111.65 36.87,111.72 C37.25,111.78 37.64,111.84 38.03,111.91 C38.42,111.97 38.81,112.03 39.19,112.09 C39.58,112.15 39.97,112.20 40.36,112.26 C40.74,112.32 41.13,112.37 41.52,112.43 C41.91,112.48 42.29,112.54 42.68,112.59 C43.07,112.64 43.46,112.69 43.84,112.74 C44.23,112.80 44.62,112.85 45.01,112.89 C45.40,112.94 45.78,112.99 46.17,113.04 C46.56,113.09 46.95,113.13 47.33,113.18 C47.72,113.22 48.11,113.27 48.50,113.31 C48.88,113.36 49.27,113.40 49.66,113.44 C50.05,113.48 50.44,113.53 50.82,113.57 C51.21,113.61 51.60,113.65 51.99,113.69 C52.37,113.73 52.76,113.77 53.15,113.80 C53.54,113.84 53.92,113.88 54.31,113.92 C54.70,113.96 55.09,113.99 55.47,114.03 C55.86,114.06 56.25,114.10 56.64,114.13 C57.03,114.17 57.41,114.20 57.80,114.24 C58.19,114.27 58.58,114.31 58.96,114.34 C59.35,114.37 59.74,114.40 60.13,114.44 C60.51,114.47 60.90,114.50 61.29,114.53 C61.68,114.56 62.07,114.59 62.45,114.62 C62.84,114.65 63.23,114.68 63.62,114.71 C64.00,114.74 64.39,114.77 64.78,114.80 C65.17,114.83 65.55,114.85 65.94,114.88 C66.33,114.91 66.72,114.94 67.10,114.96 C67.49,114.99 67.88,115.02 68.27,115.04 C68.66,115.07 69.04,115.09 69.43,115.12 C69.82,115.15 70.21,115.17 70.59,115.20 C70.98,115.22 71.37,115.24 71.76,115.27 C72.14,115.29 72.53,115.32 72.92,115.34 C73.31,115.36 73.70,115.39 74.08,115.41 C74.47,115.43 74.86,115.46 75.25,115.48 C75.63,115.50 76.02,115.52 76.41,115.54 C76.80,115.57 77.18,115.59 77.57,115.61 C77.96,115.63 78.35,115.65 78.73,115.67 C79.12,115.69 79.51,115.71 79.90,115.73 C80.29,115.75 80.67,115.78 81.06,115.79 C81.45,115.81 81.84,115.83 82.22,115.85 C82.61,115.87 83.00,115.89 83.39,115.91 C83.77,115.93 84.16,115.95 84.55,115.97 C84.94,115.99 85.33,116.00 85.71,116.02 C86.10,116.04 86.49,116.06 86.88,116.08 C87.26,116.09 87.65,116.11 88.04,116.13 C88.43,116.15 88.81,116.16 89.20,116.18 C89.59,116.20 89.98,116.21 90.37,116.23 C90.75,116.25 91.14,116.26 91.53,116.28 C91.92,116.30 92.30,116.31 92.69,116.33 C93.08,116.34 93.47,116.36 93.85,116.38 C94.24,116.39 94.63,116.41 95.02,116.42 C95.40,116.44 95.79,116.45 96.18,116.47 C96.57,116.48 96.96,116.50 97.34,116.51 C97.73,116.53 98.12,116.54 98.51,116.55 C98.89,116.57 99.28,116.58 99.67,116.60 C100.06,116.61 100.44,116.62 100.83,116.64 C101.22,116.65 101.61,116.67 102.00,116.68 C102.38,116.69 102.77,116.71 103.16,116.72 C103.55,116.73 103.93,116.75 104.32,116.76 C104.71,116.77 105.10,116.79 105.48,116.80 C105.87,116.81 106.26,116.82 106.65,116.84 C107.03,116.85 107.42,116.86 107.81,116.87 C108.20,116.89 108.59,116.90 108.97,116.91 C109.36,116.92 109.75,116.93 110.14,116.95 C110.52,116.96 110.91,116.97 111.30,116.98 C111.69,116.99 112.07,117.00 112.46,117.02 C112.85,117.03 113.24,117.04 113.62,117.05 C114.01,117.06 114.40,117.07 114.79,117.08 C115.18,117.09 115.56,117.10 115.95,117.12 C116.34,117.13 116.73,117.14 117.11,117.15 C117.50,117.16 117.89,117.17 118.28,117.18 C118.66,117.19 119.05,117.20 119.44,117.21 C119.83,117.22 120.22,117.23 120.60,117.24 C120.99,117.25 121.38,117.26 121.77,117.27 C122.15,117.28 122.54,117.29 122.93,117.30 C123.32,117.31 123.70,117.32 124.09,117.33 C124.48,117.34 124.87,117.35 125.25,117.36 C125.64,117.37 126.03,117.38 126.42,117.39 C126.81,117.40 127.19,117.40 127.58,117.41 C127.97,117.42 128.36,117.43 128.74,117.44 C129.13,117.45 129.52,117.46 129.91,117.47 C130.29,117.48 130.68,117.49 131.07,117.49 C131.46,117.50 131.85,117.51 132.23,117.52 C132.62,117.53 133.01,117.54 133.40,117.55 C133.78,117.55 134.17,117.56 134.56,117.57 C134.95,117.58 135.33,117.59 135.72,117.60 C136.11,117.60 136.50,117.61 136.88,117.62 C137.27,117.63 137.66,117.64 138.05,117.64 C138.44,117.65 138.82,117.66 139.21,117.67 C139.60,117.68 139.99,117.68 140.37,117.69 C140.76,117.70 141.15,117.71 141.54,117.71 C141.92,117.72 142.31,117.73 142.70,117.74 C143.09,117.74 143.48,117.75 143.86,117.76 C144.25,117.77 144.64,117.77 145.03,117.78 C145.41,117.79 145.80,117.80 146.19,117.80 C146.58,117.81 146.96,117.82 147.35,117.82 C147.74,117.83 148.13,117.84 148.51,117.85 C148.90,117.85 149.29,117.86 149.68,117.87 C150.07,117.87 150.45,117.88 150.84,117.89 C151.23,117.89 151.62,117.90 152.00,117.91 C152.39,117.91 152.78,117.92 153.17,117.93 C153.55,117.93 153.94,117.94 154.33,117.95 C154.72,117.95 155.11,117.96 155.49,117.97 C155.88,117.97 156.27,117.98 156.66,117.99 C157.04,117.99 157.43,118.00 157.82,118.00 C158.21,118.01 158.59,118.02 158.98,118.02 C159.37,118.03 159.76,118.04 160.15,118.04 C160.53,118.05 160.92,118.05 161.31,118.06 C161.70,118.07 162.08,118.07 162.47,118.08 C162.86,118.08 163.25,118.09 163.63,118.10 C164.02,118.10 164.41,118.11 164.80,118.11 C165.18,118.12 165.57,118.12 165.96,118.13 C166.35,118.14 166.74,118.14 167.12,118.15 C167.51,118.15 167.90,118.16 168.29,118.16 C168.67,118.17 169.06,118.18 169.45,118.18 C169.84,118.19 170.22,118.19 170.61,118.20 C171.00,118.20 171.39,118.21 171.78,118.21 C172.16,118.22 172.55,118.22 172.94,118.23 C173.33,118.23 173.71,118.24 174.10,118.24 C174.49,118.25 174.88,118.26 175.26,118.26 C175.65,118.27 176.04,118.27 176.43,118.28 C176.81,118.28 177.40,118.29 177.59,118.29" fill="none" stroke="#2a6a9a" stroke-width="1.1"/>
<path d="M26.5,13.5 H177.5 V120.5" fill="none" stroke="#c0c0c0" stroke-width="1"/>
<path d="M26.5,13.5 V120.5 H177.5" fill="none" stroke="#8a8a8a" stroke-width="1"/>
<path d="M26.40,120.5 v2.2 M38.03,120.5 v1.4 M49.66,120.5 v2.2 M61.29,120.5 v1.4 M72.92,120.5 v2.2 M84.55,120.5 v1.4 M96.18,120.5 v2.2 M107.81,120.5 v1.4 M119.44,120.5 v2.2 M131.07,120.5 v1.4 M142.70,120.5 v2.2 M154.33,120.5 v1.4 M165.96,120.5 v2.2 M177.59,120.5 v1.4 M26.5,120.75 h-2.2 M26.5,113.59 h-1.4 M26.5,106.43 h-2.2 M26.5,99.27 h-1.4 M26.5,92.11 h-2.2 M26.5,84.95 h-1.4 M26.5,77.79 h-2.2 M26.5,70.63 h-1.4 M26.5,63.47 h-2.2 M26.5,56.31 h-1.4 M26.5,49.15 h-2.2 M26.5,41.99 h-1.4 M26.5,34.83 h-2.2 M26.5,27.67 h-1.4 M26.5,20.51 h-2.2" stroke="#7a7a7a" stroke-width="0.8"/>
<text transform="translate(26.80,133) scale(0.95,1)" class="tk" text-anchor="middle">400</text>
<text transform="translate(50.06,133) scale(0.95,1)" class="tk" text-anchor="middle">600</text>
<text transform="translate(73.32,133) scale(0.95,1)" class="tk" text-anchor="middle">800</text>
<text transform="translate(96.58,133) scale(0.86,1)" class="tk" text-anchor="middle">1,000</text>
<text transform="translate(119.84,133) scale(0.86,1)" class="tk" text-anchor="middle">1,200</text>
<text transform="translate(143.10,133) scale(0.86,1)" class="tk" text-anchor="middle">1,400</text>
<text transform="translate(166.36,133) scale(0.86,1)" class="tk" text-anchor="middle">1,600</text>
<text transform="translate(21.6,123.45) scale(0.9,1)" class="tk" text-anchor="end">0</text>
<text transform="translate(21.6,109.13) scale(0.9,1)" class="tk" text-anchor="end">2</text>
<text transform="translate(21.6,94.81) scale(0.9,1)" class="tk" text-anchor="end">4</text>
<text transform="translate(21.6,80.49) scale(0.9,1)" class="tk" text-anchor="end">6</text>
<text transform="translate(21.6,66.17) scale(0.9,1)" class="tk" text-anchor="end">8</text>
<text transform="translate(21.6,51.85) scale(0.9,1)" class="tk" text-anchor="end">10</text>
<text transform="translate(21.6,37.53) scale(0.9,1)" class="tk" text-anchor="end">12</text>
<text transform="translate(21.6,23.21) scale(0.9,1)" class="tk" text-anchor="end">14</text>
<text transform="translate(98.3,145.4) scale(0.9,1)" class="lb" text-anchor="middle" style="font-size:8.7px">Wavelength (nm)</text>
<text transform="translate(9.0,69.4) rotate(-90)" class="lb" text-anchor="middle">μ<tspan font-size="5" dy="1.5">s</tspan><tspan dy="-1.5">′(mm</tspan><tspan font-size="5" dy="-2">−1</tspan><tspan dy="2">)</tspan></text>
<text x="15.5" y="10" class="pl">a</text>
<text x="44.4" y="9" class="hd" text-anchor="middle">Visible</text>
<text x="79.1" y="9" class="hd" text-anchor="middle">NIR-I</text>
<text x="135.7" y="9" class="hd" text-anchor="middle">NIR-II</text>
<rect x="222.50" y="13.5" width="33.45" height="107.00" fill="#b8e5f3"/>
<rect x="255.95" y="13.5" width="33.45" height="107.00" fill="#e8eed5"/>
<rect x="289.40" y="13.5" width="89.20" height="107.00" fill="#fcf3ef"/>
<rect x="322.85" y="13.5" width="11.15" height="107.00" fill="#f9e5d9"/>
<rect x="345.15" y="13.5" width="22.30" height="107.00" fill="#f9e5d9"/>
<rect x="222.5" y="13.5" width="156.00" height="107.00" fill="url(#dots)"/>
<path d="M222.40,120.40 C226.17,120.38 237.07,120.45 245.00,120.30 C252.93,120.15 264.05,119.73 270.00,119.50 C275.95,119.27 278.03,119.12 280.70,118.90 C283.37,118.68 284.22,118.27 286.00,118.20 C287.78,118.13 289.07,118.42 291.40,118.50 C293.73,118.58 297.58,119.07 300.00,118.70 C302.42,118.33 304.25,116.82 305.90,116.30 C307.55,115.78 308.35,115.65 309.90,115.60 C311.45,115.55 313.43,115.85 315.20,116.00 C316.97,116.15 318.95,116.70 320.50,116.50 C322.05,116.30 323.18,115.98 324.50,114.80 C325.82,113.62 327.30,111.40 328.40,109.40 C329.50,107.40 330.40,105.37 331.10,102.80 C331.80,100.23 332.22,97.13 332.60,94.00 C332.98,90.87 333.12,88.67 333.40,84.00 C333.68,79.33 334.00,71.67 334.30,66.00 C334.60,60.33 334.83,55.13 335.20,50.00 C335.57,44.87 336.07,39.27 336.50,35.20 C336.93,31.13 337.32,28.03 337.80,25.60 C338.28,23.17 338.87,21.07 339.40,20.60 C339.93,20.13 340.47,20.37 341.00,22.80 C341.53,25.23 342.08,30.67 342.60,35.20 C343.12,39.73 343.62,45.87 344.10,50.00 C344.58,54.13 344.95,56.67 345.50,60.00 C346.05,63.33 346.58,66.00 347.40,70.00 C348.22,74.00 349.42,80.28 350.40,84.00 C351.38,87.72 352.43,90.33 353.30,92.30 C354.17,94.27 354.52,94.57 355.60,95.80 C356.68,97.03 358.08,98.67 359.80,99.70 C361.52,100.73 364.12,101.87 365.90,102.00 C367.68,102.13 368.97,101.60 370.50,100.50 C372.03,99.40 373.77,96.88 375.10,95.40 C376.43,93.92 377.93,92.23 378.50,91.60" fill="none" stroke="#2a2a2a" stroke-width="1.3"/>
<path d="M222.5,13.5 H378.5 V120.5" fill="none" stroke="#c0c0c0" stroke-width="1"/>
<path d="M222.5,13.5 V120.5 H378.5" fill="none" stroke="#8a8a8a" stroke-width="1"/>
<path d="M222.50,120.5 v2.6 M233.65,120.5 v1.5 M244.80,120.5 v2.6 M255.95,120.5 v1.5 M267.10,120.5 v2.6 M278.25,120.5 v1.5 M289.40,120.5 v2.6 M300.55,120.5 v1.5 M311.70,120.5 v2.6 M322.85,120.5 v1.5 M334.00,120.5 v2.6 M345.15,120.5 v1.5 M356.30,120.5 v2.6 M367.45,120.5 v1.5 M378.60,120.5 v2.6 M222.5,120.75 h-3.2 M222.5,113.58 h-1.5 M222.5,106.40 h-3.2 M222.5,99.22 h-1.5 M222.5,92.05 h-3.2 M222.5,84.88 h-1.5 M222.5,77.70 h-3.2 M222.5,70.53 h-1.5 M222.5,63.35 h-3.2 M222.5,56.17 h-1.5 M222.5,49.00 h-3.2 M222.5,41.82 h-1.5 M222.5,34.65 h-3.2 M222.5,27.47 h-1.5 M222.5,20.30 h-3.2 M222.5,13.12 h-1.5" stroke="#7a7a7a" stroke-width="0.8"/>
<text transform="translate(222.50,133.2) scale(0.95,1)" class="tk" text-anchor="middle">400</text>
<text transform="translate(244.80,133.2) scale(0.95,1)" class="tk" text-anchor="middle">600</text>
<text transform="translate(267.10,133.2) scale(0.95,1)" class="tk" text-anchor="middle">800</text>
<text transform="translate(289.40,133.2) scale(0.86,1)" class="tk" text-anchor="middle">1,000</text>
<text transform="translate(311.70,133.2) scale(0.86,1)" class="tk" text-anchor="middle">1,200</text>
<text transform="translate(334.00,133.2) scale(0.86,1)" class="tk" text-anchor="middle">1,400</text>
<text transform="translate(356.30,133.2) scale(0.86,1)" class="tk" text-anchor="middle">1,600</text>
<text transform="translate(378.60,133.2) scale(0.86,1)" class="tk" text-anchor="middle">1,800</text>
<text transform="translate(214.5,123.95) scale(0.95,1)" class="tk" text-anchor="end">0.0</text>
<text transform="translate(214.5,109.60) scale(0.95,1)" class="tk" text-anchor="end">0.2</text>
<text transform="translate(214.5,95.25) scale(0.95,1)" class="tk" text-anchor="end">0.4</text>
<text transform="translate(214.5,80.90) scale(0.95,1)" class="tk" text-anchor="end">0.6</text>
<text transform="translate(214.5,66.55) scale(0.95,1)" class="tk" text-anchor="end">0.8</text>
<text transform="translate(214.5,52.20) scale(0.95,1)" class="tk" text-anchor="end">1.0</text>
<text transform="translate(214.5,37.85) scale(0.95,1)" class="tk" text-anchor="end">1.2</text>
<text transform="translate(214.5,23.50) scale(0.95,1)" class="tk" text-anchor="end">1.4</text>
<text transform="translate(300.8,146.0) scale(0.9,1)" class="lb" text-anchor="middle" style="font-size:9.4px">Wavelength (nm)</text>
<text transform="translate(195.7,67.7) rotate(-90)" class="lb" text-anchor="middle" style="font-size:8.4px">Absorbance (OD)</text>
<text x="209.5" y="11.1" class="pl">b</text>
<text x="239.1" y="28.4" class="hd" text-anchor="middle" style="font-size:8.3px">Visible</text>
<text x="271.8" y="28.4" class="hd" text-anchor="middle" style="font-size:8.3px">NIR-I</text>
<text x="305.7" y="26.6" class="hd" text-anchor="middle" style="font-size:8.3px">NIR-II</text>
<text x="328.3" y="10.8" class="sm" text-anchor="middle">NIR-IIa</text>
<text x="356.6" y="10.8" class="sm" text-anchor="middle">NIR-IIb</text>
<text x="15.5" y="173.5" class="pl" style="font-size:12px;font-weight:bold">c</text>
<rect x="23.2" y="174.8" width="123.5" height="19.4" fill="url(#spec)"/>
<rect x="23.2" y="174.8" width="123.5" height="19.4" fill="url(#specv)"/>
<rect x="23.2" y="174.8" width="123.5" height="19.4" fill="url(#dots2)"/>
<path d="M23.3,215.2 Q40,215 59,217 Q75,216 88,216.1 L146.4,216.2 L146.4,280.4 L23.3,280.4 Z" fill="#fac3b4"/>
<path d="M23.3,215.2 Q40,215 59,217 Q75,216 88,216.1 L146.4,216.2 L146.4,218 Q100,222 60,224 Q40,226 23.3,224 Z" fill="#f7c9d6" opacity="0.5"/>
<text x="1.0" y="250.8" class="sf">Depth</text>
<text x="75.0" y="264.1" class="sf" text-anchor="middle" style="font-size:11.2px">Tissue</text>
<path d="M26.5,194.2 V217.70000000000002" stroke="#5a2a8a" stroke-width="1.2"/>
<path d="M24.8,217.20000000000002 L28.2,217.20000000000002 L26.5,220.8 Z" fill="#5a2a8a"/>
<path d="M60.0,194.2 V229.3" stroke="#3ade3a" stroke-width="1.6"/>
<path d="M58.1,228.8 L61.9,228.8 L60.0,232.4 Z" fill="#3ade3a"/>
<path d="M94.5,194.2 V243.4" stroke="#e0101e" stroke-width="1.1"/>
<path d="M92.8,242.9 L96.2,242.9 L94.5,246.5 Z" fill="#e0101e"/>
<path d="M125.5,194.2 V262.9" stroke="#b0101e" stroke-width="1.1"/>
<path d="M123.8,262.4 L127.2,262.4 L125.5,266 Z" fill="#b0101e"/>
<text x="32.3" y="208.2" class="bs" fill="#7030a0">UV</text>
<text x="63.9" y="210.8" class="bs" fill="#33dd33">VIS</text>
<text x="97.5" y="208.6" class="bs" fill="#e02030">NIR-I</text>
<text x="127.8" y="208.6" class="bs" fill="#8a1a2a">NIR-II</text>
<rect x="174.2" y="215.6" width="123" height="65" fill="#fac3b4"/>
<ellipse cx="190" cy="241" rx="11" ry="11" fill="#f8d2dc" opacity="0.2"/>
<text x="151.8" y="251.0" class="sf">Depth</text>
<text x="162.8" y="164.6" class="sf" style="font-size:8.6px">Light source</text>
<path d="M173.6,167.8 L200.6,211.6" stroke="#000" stroke-width="1.9"/>
<path d="M197.4,211.4 L202.6,208.2 L202.8,215 Z" fill="#000"/>
<path d="M204.1,214.9 L222.3,191.6" stroke="#111" stroke-width="1.1"/>
<path d="M220.2,190.3 L224.5,188.6 L223.5,193.2 Z" fill="#111"/>
<text transform="translate(212.2,195.4) rotate(-52)" class="sf" text-anchor="middle" style="font-size:6.7px">Reflection</text>
<text transform="translate(203.6,268.8) rotate(26.5)" class="sf" text-anchor="middle" style="font-size:8.5px">Scattering</text>
<path d="M203.60,215.20 C203.73,215.67 204.53,216.95 204.40,218.00 C204.27,219.05 203.65,220.40 202.80,221.50 C201.95,222.60 200.52,223.87 199.30,224.60 C198.08,225.33 196.52,225.72 195.50,225.90 C194.48,226.08 193.95,225.58 193.20,225.70 C192.45,225.82 191.37,226.45 191.00,226.60" fill="none" stroke="#111" stroke-width="1.15" stroke-linecap="round"/>
<path d="M191.00,226.60 L192.73,224.49 L193.71,226.89 Z" fill="#111"/>
<path d="M203.60,215.20 C204.00,215.63 205.33,216.58 206.00,217.80 C206.67,219.02 207.43,220.97 207.60,222.50 C207.77,224.03 206.95,225.67 207.00,227.00 C207.05,228.33 207.55,229.40 207.90,230.50 C208.25,231.60 208.90,233.08 209.10,233.60" fill="none" stroke="#111" stroke-width="1.15" stroke-linecap="round"/>
<path d="M209.10,233.60 L207.02,231.83 L209.45,230.89 Z" fill="#111"/>
<path d="M203.60,215.20 C204.10,215.27 204.62,215.05 206.60,215.60 C208.58,216.15 213.30,217.08 215.50,218.50 C217.70,219.92 218.82,221.68 219.80,224.10 C220.78,226.52 220.47,230.32 221.40,233.00 C222.33,235.68 224.13,238.60 225.40,240.20 C226.67,241.80 227.47,241.82 229.00,242.60 C230.53,243.38 233.67,244.52 234.60,244.90" fill="none" stroke="#111" stroke-width="1.15" stroke-linecap="round"/>
<path d="M234.60,244.90 L231.89,245.19 L232.87,242.79 Z" fill="#111"/>
<path d="M203.60,215.20 C204.10,215.18 203.43,214.67 206.60,215.10 C209.77,215.53 217.82,216.30 222.60,217.80 C227.38,219.30 232.10,221.65 235.30,224.10 C238.50,226.55 240.27,229.38 241.80,232.50 C243.33,235.62 243.47,240.12 244.50,242.80 C245.53,245.48 245.68,246.30 248.00,248.60 C250.32,250.90 254.63,254.60 258.40,256.60 C262.17,258.60 266.53,259.67 270.60,260.60 C274.67,261.53 280.77,261.93 282.80,262.20" fill="none" stroke="#111" stroke-width="1.15" stroke-linecap="round"/>
<path d="M282.80,262.20 L280.04,263.25 L280.40,260.47 Z" fill="#111"/>
<path d="M187.40,228.40 C187.03,228.30 186.17,228.30 185.20,227.80 C184.23,227.30 182.50,226.20 181.60,225.40 C180.70,224.60 180.15,223.93 179.80,223.00 C179.45,222.07 179.55,220.33 179.50,219.80" fill="none" stroke="#5a1a90" stroke-width="0.9" stroke-linecap="round"/>
<path d="M179.50,219.80 L180.76,221.49 L178.57,221.69 Z" fill="#5a1a90"/>
<path d="M187.40,228.40 C187.13,228.70 186.57,229.38 185.80,230.20 C185.03,231.02 183.90,232.38 182.80,233.30 C181.70,234.22 180.20,234.58 179.20,235.70 C178.20,236.82 177.20,239.28 176.80,240.00" fill="none" stroke="#5a1a90" stroke-width="0.9" stroke-linecap="round"/>
<path d="M176.80,240.00 L176.72,237.89 L178.64,238.96 Z" fill="#5a1a90"/>
<path d="M187.40,228.40 C187.40,228.80 187.37,229.58 187.40,230.80 C187.43,232.02 187.27,234.28 187.60,235.70 C187.93,237.12 188.88,237.98 189.40,239.30 C189.92,240.62 190.48,242.88 190.70,243.60" fill="none" stroke="#5a1a90" stroke-width="0.9" stroke-linecap="round"/>
<path d="M190.70,243.60 L189.13,242.20 L191.23,241.56 Z" fill="#5a1a90"/>
<path d="M187.40,228.40 C187.63,228.60 187.95,229.00 188.80,229.60 C189.65,230.20 191.38,231.18 192.50,232.00 C193.62,232.82 194.55,233.47 195.50,234.50 C196.45,235.53 197.75,237.58 198.20,238.20" fill="none" stroke="#5a1a90" stroke-width="0.9" stroke-linecap="round"/>
<path d="M198.20,238.20 L196.25,237.39 L198.03,236.10 Z" fill="#5a1a90"/>
<path d="M210.20,237.90 C210.38,237.62 210.73,237.43 211.30,236.20 C211.87,234.97 212.62,232.43 213.60,230.50 C214.58,228.57 215.87,226.12 217.20,224.60 C218.53,223.08 220.07,222.40 221.60,221.40 C223.13,220.40 225.18,219.92 226.40,218.60 C227.62,217.28 228.25,215.35 228.90,213.50 C229.55,211.65 229.95,209.35 230.30,207.50 C230.65,205.65 230.88,203.25 231.00,202.40" fill="none" stroke="#22e622" stroke-width="0.9" stroke-linecap="round"/>
<path d="M231.00,202.40 L231.89,204.74 L229.51,204.42 Z" fill="#22e622"/>
<path d="M210.20,237.90 C209.92,238.18 209.35,239.13 208.50,239.60 C207.65,240.07 206.15,239.95 205.10,240.70 C204.05,241.45 202.97,242.82 202.20,244.10 C201.43,245.38 201.32,247.35 200.50,248.40 C199.68,249.45 197.83,250.07 197.30,250.40" fill="none" stroke="#22e622" stroke-width="0.9" stroke-linecap="round"/>
<path d="M197.30,250.40 L198.24,248.51 L199.41,250.38 Z" fill="#22e622"/>
<path d="M210.20,237.90 C210.00,238.37 209.38,239.47 209.00,240.70 C208.62,241.93 208.55,243.78 207.90,245.30 C207.25,246.82 205.77,248.08 205.10,249.80 C204.43,251.52 204.10,254.63 203.90,255.60" fill="none" stroke="#22e622" stroke-width="0.9" stroke-linecap="round"/>
<path d="M203.90,255.60 L203.19,253.61 L205.34,254.06 Z" fill="#22e622"/>
<path d="M210.20,237.90 C210.48,238.37 211.43,239.47 211.90,240.70 C212.37,241.93 212.15,243.98 213.00,245.30 C213.85,246.62 215.87,247.35 217.00,248.60 C218.13,249.85 219.33,252.10 219.80,252.80" fill="none" stroke="#22e622" stroke-width="0.9" stroke-linecap="round"/>
<path d="M219.80,252.80 L217.89,251.91 L219.72,250.69 Z" fill="#22e622"/>
<path d="M240.50,247.60 C240.53,246.23 240.57,242.00 240.70,239.40 C240.83,236.80 240.67,234.78 241.30,232.00 C241.93,229.22 243.62,225.43 244.50,222.70 C245.38,219.97 246.08,218.22 246.60,215.60 C247.12,212.98 247.33,209.27 247.60,207.00 C247.87,204.73 248.10,202.83 248.20,202.00" fill="none" stroke="#ee1a1a" stroke-width="0.9" stroke-linecap="round"/>
<path d="M248.20,202.00 L249.13,204.33 L246.75,204.04 Z" fill="#ee1a1a"/>
<path d="M240.50,247.60 C240.33,248.28 239.88,250.38 239.50,251.70 C239.12,253.02 238.92,254.12 238.20,255.50 C237.48,256.88 236.23,258.67 235.20,260.00 C234.17,261.33 232.87,262.30 232.00,263.50 C231.13,264.70 230.33,266.58 230.00,267.20" fill="none" stroke="#ee1a1a" stroke-width="0.9" stroke-linecap="round"/>
<path d="M230.00,267.20 L229.94,265.01 L231.87,266.05 Z" fill="#ee1a1a"/>
<path d="M240.50,247.60 C240.68,248.28 241.22,250.38 241.60,251.70 C241.98,253.02 242.38,254.12 242.80,255.50 C243.22,256.88 243.40,258.75 244.10,260.00 C244.80,261.25 246.28,261.67 247.00,263.00 C247.72,264.33 248.17,267.17 248.40,268.00" fill="none" stroke="#ee1a1a" stroke-width="0.9" stroke-linecap="round"/>
<path d="M248.40,268.00 L246.83,266.47 L248.95,265.87 Z" fill="#ee1a1a"/>
<path d="M287.00,262.20 C286.77,260.17 285.83,253.30 285.60,250.00 C285.37,246.70 286.13,245.78 285.60,242.40 C285.07,239.02 284.35,232.53 282.40,229.70 C280.45,226.87 276.02,227.52 273.90,225.40 C271.78,223.28 270.75,220.17 269.70,217.00 C268.65,213.83 268.15,209.13 267.60,206.40 C267.05,203.67 266.60,201.57 266.40,200.60" fill="none" stroke="#a00818" stroke-width="1.6" stroke-linecap="round"/>
<path d="M266.40,200.60 L268.81,203.37 L265.29,204.10 Z" fill="#a00818"/>
<path d="M287.00,262.20 C286.57,263.10 285.85,265.68 284.40,267.60 C282.95,269.52 279.93,272.00 278.30,273.70 C276.67,275.40 275.22,277.12 274.60,277.80" fill="none" stroke="#a00818" stroke-width="1.0" stroke-linecap="round"/>
<path d="M274.60,277.80 L275.18,275.36 L276.96,276.97 Z" fill="#a00818"/>
<path d="M187.4,224.20000000000002 L188.0,227.8 L189.8,228.4 L188.0,229.0 L187.4,231.4 L186.8,229.0 L185.0,228.4 L186.8,227.8 Z" fill="#5a1a90"/>
<polygon points="210.20,233.60 211.32,236.36 214.29,236.57 212.01,238.49 212.73,241.38 210.20,239.80 207.67,241.38 208.39,238.49 206.11,236.57 209.08,236.36" fill="#11ee11"/>
<polygon points="240.50,242.80 241.85,245.26 244.66,245.20 243.20,247.60 244.66,250.00 241.85,249.94 240.50,252.40 239.15,249.94 236.34,250.00 237.80,247.60 236.34,245.20 239.15,245.26" fill="#ee1a1a"/>
<polygon points="287.00,257.30 287.96,258.63 289.45,257.96 289.62,259.58 291.24,259.75 290.57,261.24 291.90,262.20 290.57,263.16 291.24,264.65 289.62,264.82 289.45,266.44 287.96,265.77 287.00,267.10 286.04,265.77 284.55,266.44 284.38,264.82 282.76,264.65 283.43,263.16 282.10,262.20 283.43,261.24 282.76,259.75 284.38,259.58 284.55,257.96 286.04,258.63" fill="#9a0010"/>
<path d="M241.7,155.8 A14.55,4.4 0 0 1 270.8,155.8 L270.8,177.5 L241.7,177.5 Z" fill="url(#camb)"/>
<ellipse cx="256.25" cy="178.3" rx="14.55" ry="4.6" fill="#c6d0cc"/>
<ellipse cx="256.25" cy="178.6" rx="10" ry="2.6" fill="#d4dcd8"/>
<path d="M249.4,178.6 L249.4,188.4 A7.2,2.3 0 0 0 263.8,188.4 L263.8,178.6 A7.2,1.6 0 0 0 249.4,178.6 Z" fill="#5e6868"/>
<path d="M249.6,185.8 A7.0,1.6 0 0 0 263.6,185.8" fill="none" stroke="#b8c2c0" stroke-width="1.0"/>
<ellipse cx="256.6" cy="188.6" rx="6.0" ry="1.4" fill="#6a7474"/>
<text x="256.4" y="167.0" class="sf" text-anchor="middle" style="font-size:8.7px;fill:#f4f4f4;stroke:#f4f4f4;stroke-width:0.15">Camera</text>
<text x="274.5" y="208.0" class="sf" style="font-size:8.6px">Emission</text>
<text x="321.7" y="228.2" class="sf" style="font-size:8.55px">UV fluorophores</text>
<text x="321.7" y="243.2" class="sf" style="font-size:8.55px"><tspan style="fill:#1a1a80">V</tspan>IS fluorophores</text>
<text x="322.7" y="259.2" class="sf" style="font-size:8.55px">NIR-I fluorophores</text>
<text x="322.7" y="274.8" class="sf" style="font-size:8.55px">NIR-II fluorophores</text>
<polygon points="313.70,220.20 314.62,224.88 319.30,225.80 314.62,226.72 313.70,231.40 312.78,226.72 308.10,225.80 312.78,224.88" fill="#5a1a8a"/>
<polygon points="313.70,235.90 315.11,239.66 319.12,239.84 315.98,242.34 317.05,246.21 313.70,244.00 310.35,246.21 311.42,242.34 308.28,239.84 312.29,239.66" fill="#11ee11"/>
<polygon points="313.80,251.90 315.25,254.49 318.22,254.45 316.70,257.00 318.22,259.55 315.25,259.51 313.80,262.10 312.35,259.51 309.38,259.55 310.90,257.00 309.38,254.45 312.35,254.49" fill="#ee1111"/>
<polygon points="313.80,267.20 314.81,268.43 316.30,267.87 316.56,269.44 318.13,269.70 317.57,271.19 318.80,272.20 317.57,273.21 318.13,274.70 316.56,274.96 316.30,276.53 314.81,275.97 313.80,277.20 312.79,275.97 311.30,276.53 311.04,274.96 309.47,274.70 310.03,273.21 308.80,272.20 310.03,271.19 309.47,269.70 311.04,269.44 311.30,267.87 312.79,268.43" fill="#9a0010"/>
</svg>
</body></html>
